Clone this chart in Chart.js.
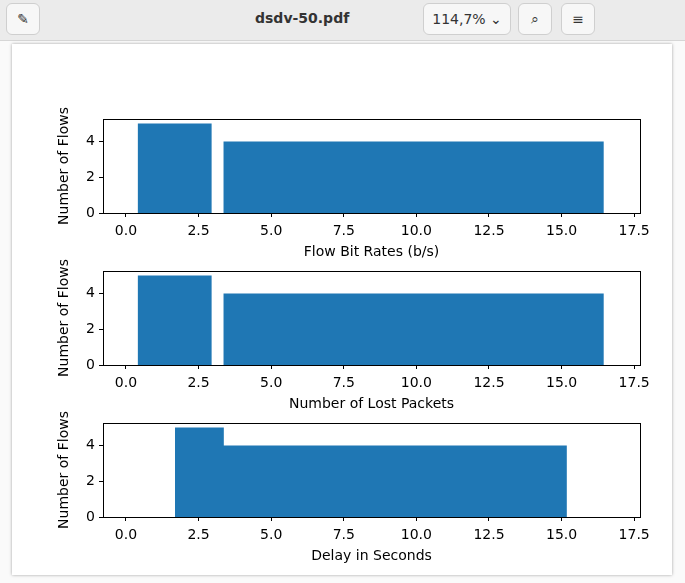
<!DOCTYPE html>
<html>
<head>
<meta charset="utf-8">
<script src="https://cdn.jsdelivr.net/npm/chart.js@4"></script>
<style>
  body { margin: 0; width: 685px; height: 583px; background: #fafafa; font-family: "DejaVu Sans", sans-serif; position: relative; overflow: hidden; }
  #bar { position: absolute; left: 0; top: 0; width: 685px; height: 40px; background: #ebebeb; border-bottom: 1px solid #d6d6d6; }
  #bar .title { position: absolute; left: 255px; top: 10px; font-size: 14px; font-weight: bold; color: #333; }
  #bar .btn { position: absolute; top: 3px; height: 30px; border: 1px solid #cfcfcf; border-radius: 6px; background: #f7f7f7; font-size: 14px; color: #333; line-height: 30px; text-align: center; }
  #page { position: absolute; left: 12px; top: 44px; width: 660px; height: 531px; background: #fff; box-shadow: 0 0 3px rgba(0,0,0,0.35); }
  canvas.c { position: absolute; left: 52px; }
</style>
</head>
<body>
<div id="bar">
  <div class="btn" style="left:6px;width:32px;">✎</div>
  <div class="title">dsdv-50.pdf</div>
  <div class="btn" style="left:423px;width:86px;">114,7% ⌄</div>
  <div class="btn" style="left:518px;width:32px;">⌕</div>
  <div class="btn" style="left:561px;width:32px;">≡</div>
</div>
<div id="page"></div>
<canvas class="c" id="c1" style="top:100px"></canvas>
<canvas class="c" id="c2" style="top:252px"></canvas>
<canvas class="c" id="c3" style="top:404px"></canvas>
<script>
// histogram bin edges and counts
const rateEdges = [0, 0.41, 2.95, 3.36, 16.45, 16.86];
const rateCounts = [5, 0, 4, 0, 1];
const lostEdges = [0, 0.41, 2.95, 3.36, 16.45, 16.86];
const lostCounts = [5, 0, 4, 0, 1];
const delayEdges = [0, 1.69, 3.37, 15.18, 16.86];
const delayCounts = [5, 4, 0, 1];
const xTicks = [0, 2.5, 5, 7.5, 10, 12.5, 15, 17.5];
const yTicks = [0, 2, 4];
const xTitles = ["Flow Bit Rates (b/s)", "Number of Lost Packets", "Delay in Seconds"];

function toPoints(edges, counts) {
  // each point carries the count of the bin that ends at it
  return edges.map((e, i) => ({ x: e, y: i === 0 ? 0 : counts[i - 1] }));
}

function makeChart(id, edges, counts, xTitle) {
  const cv = document.getElementById(id);
  cv.width = 620; cv.height = 165;
  cv.style.width = "620px"; cv.style.height = "165px";
  const font = { family: "DejaVu Sans", size: 14 };
  return new Chart(cv.getContext("2d"), {
    type: "line",
    data: {
      datasets: [{
        data: toPoints(edges, counts),
        stepped: "before",
        fill: "origin",
        backgroundColor: "#1f77b4",
        borderWidth: 0,
        pointRadius: 0
      }]
    },
    options: {
      responsive: false,
      animation: false,
      layout: { padding: { top: 11, right: 24, left: 0, bottom: 0 } },
      plugins: { legend: { display: false }, tooltip: { enabled: false } },
      scales: {
        x: {
          type: "linear", min: -0.79, max: 17.7,
          afterBuildTicks: s => { s.ticks = xTicks.map(v => ({ value: v })); },
          afterFit: s => { s.height = 52; },
          ticks: { color: "#000", font, maxRotation: 0, padding: 6, callback: v => v.toFixed(1) },
          grid: { drawOnChartArea: false, tickLength: 4, color: "#000" },
          border: { color: "#000", width: 1 },
          title: { display: true, text: xTitle, color: "#000", font, padding: { top: 0 } }
        },
        y: {
          min: 0, max: 5.25,
          afterBuildTicks: s => { s.ticks = yTicks.map(v => ({ value: v })); },
          afterFit: s => { s.width = 51; },
          ticks: { color: "#000", font, padding: 4 },
          grid: { drawOnChartArea: false, tickLength: 4, color: "#000" },
          border: { color: "#000", width: 1 },
          title: { display: true, text: "Number of Flows", color: "#000", font, padding: { bottom: 0 } }
        },
        x2: { type: "linear", position: "top", display: true, ticks: { display: false }, grid: { display: false }, border: { color: "#000" } },
        y2: { type: "linear", position: "right", display: true, ticks: { display: false }, grid: { display: false }, border: { color: "#000" } }
      }
    }
  });
}

makeChart("c1", rateEdges, rateCounts, xTitles[0]);
makeChart("c2", lostEdges, lostCounts, xTitles[1]);
makeChart("c3", delayEdges, delayCounts, xTitles[2]);
</script>
</body>
</html>
